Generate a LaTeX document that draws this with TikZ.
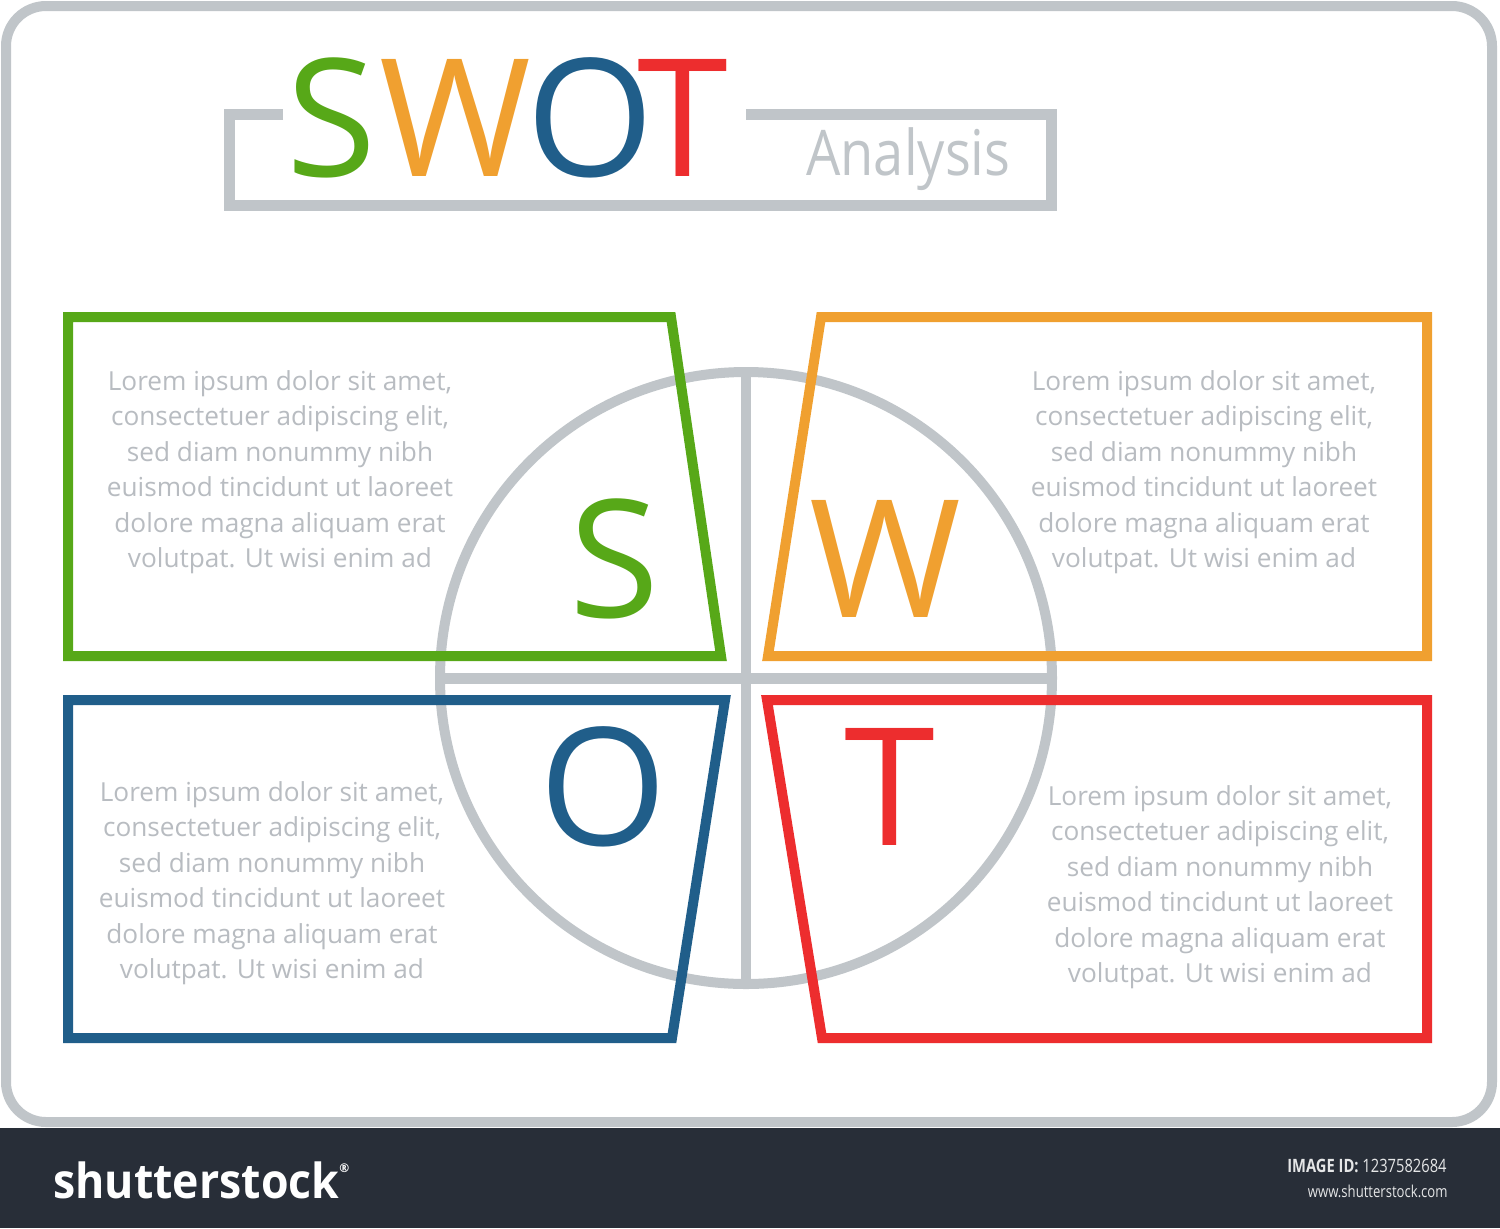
\documentclass[tikz,border=0pt]{standalone}
\usepackage{fontspec}
\setmainfont{Open Sans}

\definecolor{swotgreen}{RGB}{87,168,24}
\definecolor{swotorange}{RGB}{240,160,48}
\definecolor{swotblue}{RGB}{32,94,138}
\definecolor{swotred}{RGB}{237,45,46}
\definecolor{framegray}{RGB}{192,197,201}
\definecolor{loremgray}{RGB}{184,188,193}
\definecolor{bardark}{RGB}{40,46,56}

\newcommand{\loremtext}{Lorem ipsum dolor sit amet,\\consectetuer adipiscing elit,\\sed diam nonummy nibh\\euismod tincidunt ut laoreet\\dolore magna aliquam erat\\volutpat. Ut wisi enim ad}

\begin{document}
\begin{tikzpicture}[x=0.5pt, y=-0.5pt,
    frame/.style={draw=framegray, line width=5pt},
    quad/.style={line width=5pt, line join=miter},
    lorem/.style={text=loremgray, font=\fontsize{13.1}{17.75}\selectfont, align=center, inner sep=0pt},
    bigletter/.style={font=\fontsize{82}{82}\selectfont, inner sep=0pt, anchor=base},
    titleletter/.style={font=\fontsize{82}{82}\selectfont, inner sep=0pt, anchor=base}]
    \useasboundingbox (0,0) rectangle (1500,1228);
    \fill[white] (0,0) rectangle (1500,1228);

    % outer frame and footer bar
    \draw[frame, rounded corners=20pt] (6,6) rectangle (1492,1122);
    \fill[bardark] (0,1128) rectangle (1500,1228);

    % title
    \draw[frame, line width=5.5pt] (283,114) -| (229,205) -| (1051,114) -- (746,114);
    \node[titleletter, text=swotgreen] (title-s) at (332,176) {S};
    \node[titleletter, text=swotorange] (title-w) at (455,176) {W};
    \node[titleletter, text=swotblue] (title-o) at (590,176) {O};
    \node[titleletter, text=swotred] (title-t) at (683,176) {T};
    \node[text=framegray, font=\fontsize{31.5}{31.5}\selectfont, inner sep=0pt, anchor=base west] (analysis) at (806,175) {\scalebox{0.86}[1]{Analysis}};

    % wheel with cross
    \node[circle, draw=framegray, line width=5pt, minimum size=306pt, inner sep=0pt, outer sep=0pt] (wheel) at (746,678) {};
    \draw[frame] (wheel.north) -- (wheel.south);
    \draw[frame, line width=5.5pt] (wheel.west) -- (wheel.east);

    % quadrant boxes
    \draw[quad, swotgreen] (68,317) -- (671,317) -- (721,656) -- (68,656) -- cycle;
    \draw[quad, swotorange] (821,317) -- (1427,317) -- (1427,656) -- (768,656) -- cycle;
    \draw[quad, swotblue] (68,700) -- (725,700) -- (672,1038) -- (68,1038) -- cycle;
    \draw[quad, swotred] (767,700) -- (1427,700) -- (1427,1038) -- (822,1038) -- cycle;

    % letters
    \node[bigletter, text=swotgreen] (s) at (614,617) {S};
    \node[bigletter, text=swotorange] (w) at (885,617) {W};
    \node[bigletter, text=swotblue] (o) at (603,845) {O};
    \node[bigletter, text=swotred] (t) at (890,845) {T};

    % texts
    \node[lorem] (text-s) at (280,472) {\loremtext};
    \node[lorem] (text-w) at (1204,472) {\loremtext};
    \node[lorem] (text-o) at (272,883) {\loremtext};
    \node[lorem] (text-t) at (1220,887) {\loremtext};

    % footer
    \node[text=white, font=\bfseries\fontsize{23}{23}\selectfont, inner sep=0pt, anchor=base west] (logo) at (53,1198) {\scalebox{0.97}[1.05]{shutterstock}\raisebox{0.55em}{\fontsize{6}{6}\selectfont ®}};
    \node[text=white!88!bardark, font=\fontsize{9.2}{9.2}\selectfont, inner sep=0pt, anchor=base east] (imageid) at (1447,1172) {\scalebox{0.8}[1]{\textbf{IMAGE ID:} 1237582684}};
    \node[text=white!88!bardark, font=\fontsize{8.2}{8.2}\selectfont, inner sep=0pt, anchor=base east] (site) at (1448,1197) {\scalebox{0.8}[1]{www.shutterstock.com}};
\end{tikzpicture}
\end{document}
